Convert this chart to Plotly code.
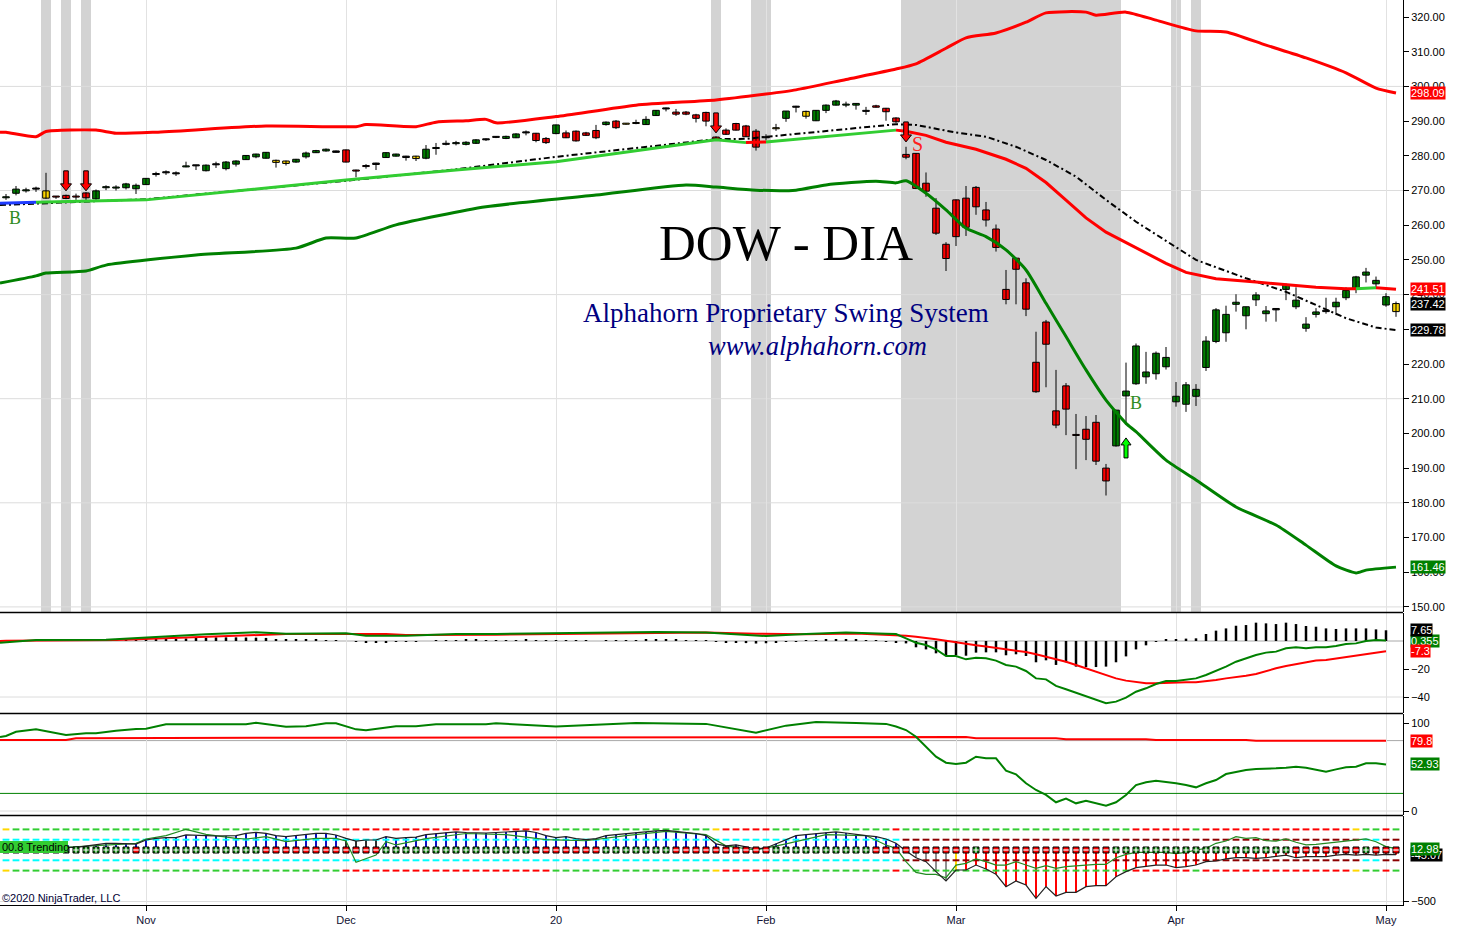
import plotly.graph_objects as go

# ---------------- categories / ticks ----------------
MONTH_IDX = [14, 34, 55, 76, 95, 117, 138]
MONTH_LBL = ["Nov", "Dec", "20", "Feb", "Mar", "Apr", "May"]
PRICE_TICKS = list(range(150, 321, 10))

# ---------------- price bars (one per trading day, index 0 = 14 Oct 2019) ----------------
OPEN = [267.9,269.2,269.9,270.4,269.9,268.3,268.6,268.3,269.3,267.6,
270.8,270.7,270.8,270.5,271.7,274.6,275.1,274.8,276.8,277.1,
275.7,277.4,276.3,277.6,278.9,279.7,279.3,278.7,278.5,278.2,
279.7,280.9,281.4,281.4,281.7,275.8,277.1,277.9,279.5,279.9,
279.9,279.9,279.3,282.1,283.3,283.5,283.3,283.6,284.6,285.3,
285.0,285.2,286.6,286.5,285.0,286.4,286.6,287.1,286.6,287.3,
289.0,290.0,289.2,289.3,289.0,291.6,293.5,292.6,292.6,291.8,
292.5,285.4,287.4,289.3,288.6,287.1,285.3,287.8,290.8,294.0,
292.8,290.1,293.1,294.6,294.6,294.6,293.0,294.4,293.7,290.9,
280.4,280.7,272.1,264.9,254.5,267.3,267.8,270.9,264.4,258.9,
241.5,250.5,243.4,220.5,232.1,206.5,213.7,199.6,201.2,203.2,
190.0,196.4,210.8,214.3,216.3,217.2,219.2,209.1,208.4,210.7,
219.0,226.5,229.0,237.2,233.9,238.5,234.5,235.6,241.5,236.5,
230.3,234.3,235.1,236.5,239.1,241.7,245.6,243.1,237.0,235.1]
HIGH = [269.0,271.3,270.8,271.1,275.1,268.4,268.8,269.1,269.5,270.3,
271.5,271.5,272.2,272.0,273.6,275.4,275.8,275.5,278.3,277.4,
277.5,278.3,278.5,278.7,280.2,280.6,281.1,278.9,278.6,279.1,
281.2,281.7,282.1,281.5,281.8,276.0,277.6,278.0,281.0,280.6,
280.0,280.0,283.1,283.7,284.4,284.3,284.2,284.8,285.0,285.7,
285.8,286.5,287.3,286.6,285.4,289.0,287.3,287.3,286.9,288.9,
289.9,290.3,289.3,290.4,291.4,293.2,293.9,293.5,292.9,292.1,
292.7,285.6,287.9,289.5,288.9,287.7,286.2,289.2,292.9,294.4,
293.0,293.2,294.8,296.1,295.6,295.2,294.1,294.7,293.8,291.1,
282.6,280.8,275.2,267.8,255.1,267.4,271.3,271.3,266.7,260.2,
247.1,250.6,244.7,229.3,232.7,218.3,214.5,205.6,205.0,205.3,
191.2,206.8,220.4,225.9,223.5,223.6,224.9,214.8,214.8,214.2,
228.0,236.1,236.8,240.1,236.5,240.7,236.7,236.1,243.2,242.1,
233.5,236.1,239.1,239.1,242.1,245.4,247.7,245.2,240.4,238.0]
LOW = [267.3,268.6,269.4,269.6,267.6,267.6,267.5,267.3,267.0,267.3,
270.1,270.0,270.3,269.0,271.6,274.0,274.5,274.2,276.7,275.9,
275.5,276.5,275.8,276.9,278.8,279.3,279.2,276.6,277.2,278.0,
279.2,280.8,281.2,280.9,278.1,273.8,276.3,275.9,279.4,279.8,
278.6,278.5,279.0,280.3,283.0,283.0,283.0,283.4,284.3,285.1,
284.8,285.1,285.9,283.9,283.4,286.2,285.1,284.1,285.7,284.8,
288.7,287.7,289.0,289.1,288.9,291.5,292.8,291.5,291.7,289.6,
288.5,284.7,286.0,287.3,285.4,281.5,284.4,287.2,289.8,292.5,
290.7,290.0,292.3,294.5,294.0,293.3,291.8,293.9,290.1,289.5,
279.0,270.4,268.2,257.2,246.8,254.0,256.9,263.0,259.6,252.4,
237.2,237.2,233.8,211.7,213.3,201.5,199.5,189.7,192.3,190.9,
182.1,196.2,202.4,214.0,214.3,215.5,218.4,207.7,206.2,207.9,
218.0,226.0,226.4,235.1,230.0,236.7,232.2,232.2,238.4,235.8,
229.3,233.4,234.5,234.1,238.4,240.4,243.5,241.6,236.5,233.6]
CLOSE = [268.1,270.4,270.2,270.6,267.8,268.1,267.7,268.1,267.9,269.9,
271.0,270.9,271.9,271.5,273.5,274.8,275.3,275.0,277.0,277.3,
277.3,277.6,278.2,278.5,280.1,280.5,281.0,278.1,277.8,279.0,
280.8,281.5,281.9,281.0,278.2,275.6,276.9,277.5,280.9,280.5,
279.5,279.2,281.9,282.3,283.5,283.7,283.9,284.6,284.8,285.5,
285.6,286.3,286.8,284.4,283.8,288.9,285.2,284.3,285.9,285.2,
289.7,288.1,289.1,289.4,290.5,293.1,293.7,292.0,292.0,290.8,
290.0,284.8,286.2,287.4,285.5,282.5,285.2,288.0,292.9,294.2,
291.4,293.1,294.6,295.8,294.8,295.1,292.8,294.0,292.7,289.8,
279.6,270.6,269.8,257.7,250.4,256.7,259.4,265.3,261.5,253.6,
238.6,247.3,235.8,212.0,225.7,202.4,207.0,199.4,198.3,192.0,
186.3,206.7,212.2,225.2,217.7,223.1,221.9,210.7,214.0,212.7,
226.6,235.6,234.3,237.8,236.5,239.9,235.3,236.0,242.8,238.4,
231.5,235.0,235.5,237.8,241.2,245.1,246.5,244.1,239.4,237.42]
BAR_COLOR = ("gggkyrrrrg" "gggggkkkgk" "gkgggggyyg" "gggkrrrkgg" "kyggkgggkk"
             "ggkrrgrrrr" "gryyggkrrr" "rrrrrrkygk" "ygggggkrrr" "rrrrrrrrrr"
             "rrrrrrrrrr" "rggggggggg" "gggggggkgg" "ggkggggggy")

# ---------------- price-panel indicator lines (bar index, value) ----------------
UP_I = [-0.6,0,3,4,9,11,15,26,35,36,41,43,46,48,49,55,63,71,76,79,84,89,91,94,96,99,102,104,108,109,112,115,119,122,126,130,134,137,139]
UP_V = [286.8,286.8,285.5,287.0,287.4,286.5,286.8,288.6,288.4,289.0,288.4,289.7,290.1,290.5,289.5,291.3,294.6,296.1,297.8,299.0,302.0,305.0,306.5,311.0,314.0,315.4,318.5,321.2,321.4,320.5,321.4,319.1,316.0,315.7,311.9,308.2,303.9,299.5,298.09]
LO_I = [-0.6,3,4,8,10,19,29,32,35,39,48,59,68,71,75,79,82,87,89,90,92,94,96,98,100,102,104,106,108,110,112,113,116,119,123,127,130,133,135,136,139]
LO_V = [243.3,245.4,246.2,246.8,248.5,251.4,253.4,256.3,256.3,260.1,265.3,268.7,271.6,271.0,270.1,270.1,271.6,272.7,272.2,272.8,269.2,264.4,259.1,256.7,252.9,247.1,237.5,227.9,218.3,209.6,202.9,200.5,192.3,186.6,178.8,173.6,167.8,161.8,159.8,160.6,161.46]
MID_I = [-0.6,3,14,34,45,55,71,74,76,89,90,92,94,97,100,102,104,106,108,110,112,114,116,118,121,125,128,131,134,135,137,139]
MID_V = [266.3,266.6,267.3,273.0,275.9,278.3,284.6,283.8,284.0,287.4,287.1,285.9,283.9,281.9,279.0,276.4,272.3,267.2,262.1,258.0,255.0,252.0,249.0,246.4,244.6,243.6,242.9,242.1,241.7,241.7,242.0,241.51]
MID_RUNS = [(-0.6, "#1f3cff"), (3, "#32cd32"), (74, "#ff0000"), (76, "#32cd32"), (89, "#ff0000"), (135, "#32cd32"), (137, "#ff0000")]
DD_I = [-0.6,14,34,45,55,71,74,80,89,91,92,95,98,101,104,107,110,113,116,119,124,128,131,134,137,139]
DD_V = [265.8,267.5,272.8,276.1,279.7,284.8,284.9,286.5,289.1,288.9,288.4,286.7,285.5,282.6,278.8,274.0,267.3,261.0,255.5,250.0,244.7,240.8,237.0,233.2,230.5,229.78]

SHADE_SPANS = [(4, 4), (6, 6), (8, 8), (71, 71), (75, 76), (90, 111), (117, 117), (119, 119)]
DOWN_ARROWS = [(6, 269.9), (8, 269.9), (71, 286.6), (90, 284.0)]
UP_ARROWS = [(112, 198.7)]

# ---------------- panel 2 (MACD style) ----------------
HIST = [0.1,0.1,0.2,0.2,0.2,0.2,0.3,0.3,0.3,0.4,0.4,0.5,
        0.8,1.0,1.2,1.4,1.5,1.6,1.8,
        2.2,2.4,2.6,2.6,2.6,2.5,2.4,2.2,
        1.2,0.9,0.8,0.8,0.8,0.7,0.6,
        0.0,-0.6,-0.8,-0.8,-0.8,-0.7,-0.5,-0.3,
        0.0,0.2,0.3,0.4,
        0.8,0.8,0.7,0.7,
        0.6,0.7,0.8,0.6,0.3,0.5,0.3,0.1,0.1,0.0,0.3,0.2,0.3,0.5,0.8,1.0,1.0,0.8,0.6,0.4,0.2,
        -0.6,-1.0,-1.3,-1.5,-1.8,-1.6,-1.2,-0.6,-0.2,
        0.3,0.6,0.8,1.0,1.0,0.9,0.7,
        0.3,-0.3,-1.2,
        -1.7,-4.5,-6.0,-8.8,-10.5,-10.0,-10.5,-8.3,-8.1,-8.1,
        -10.2,-9.5,-10.7,-15.2,-13.8,-17.1,-15.2,-18.3,-18.6,-18.6,
        -18.3,-15.2,-11.0,-6.0,-3.1,-0.5,1.2,1.2,1.7,1.9,
        5.0,7.4,9.0,10.9,11.4,13.1,12.6,12.1,13.1,12.1,
        10.7,10.2,9.0,8.6,9.0,9.0,9.0,8.3,7.65]
MACD_I_EARLY = [-0.6,0,3,10,14,17,20,25,28,34,36,40,45,49,55,60,65,70,73,76,80,84,88]
MACD_V_EARLY = [-1.2,-0.9,0.7,0.9,2.4,3.8,4.8,6.2,5.2,5.5,3.8,3.8,5.0,5.0,5.5,5.8,6.5,6.0,4.5,3.5,5.0,6.0,5.2]
MACD_V_LATE = [5.0,1.9,-1.2,-2.9,-6.0,-10.7,-10.7,-13.1,-11.9,-12.4,
               -14.0,-17.1,-18.3,-21.4,-26.7,-27.4,-32.1,-34.5,-36.9,-39.3,
               -42.1,-44.5,-43.3,-40.5,-36.2,-33.8,-30.7,-28.6,-28.6,-27.4,
               -26.7,-24.3,-21.4,-18.3,-14.8,-12.4,-10.0,-8.3,-7.6,-5.2,
               -4.5,-5.2,-4.5,-4.5,-3.6,-2.1,-1.7,0.0,0.7,0.355]
SIG_I_EARLY = [-0.6,0,11,16,20,25,28,38,40,49,55,60,65,70,75,80,85]
SIG_V_EARLY = [0.0,0.2,0.7,1.9,3.1,4.3,5.0,5.0,4.3,4.5,4.8,5.2,5.8,6.0,5.2,4.8,5.3]
SIG_V_LATE = [4.3,3.8,3.1,2.4,1.2,0.2,-1.0,-2.4,-3.1,-4.0,
              -5.0,-6.0,-6.9,-7.9,-9.5,-11.2,-12.9,-14.8,-17.1,-19.5,
              -21.9,-24.3,-26.7,-28.3,-29.5,-30.2,-30.2,-29.8,-29.5,-29.5,
              -29.5,-28.8,-27.9,-26.7,-25.9,-24.8,-23.6,-21.4,-19.5,-17.9,
              -16.7,-15.2,-14.0,-13.6,-12.6,-11.4,-10.5,-9.5,-8.8,-7.3]

# ---------------- panel 3 (0-100 oscillator) ----------------
OSC_I_EARLY = [-0.6,0,1,3,6,8,9,11,13,14,16,24,25,28,30,32,33,35,36,39,41,43,48,49,55,60,63,70,73,75,78,81,85,88,89]
OSC_V_EARLY = [84,85.2,90.1,92.8,86.4,88.3,88.3,91.3,93.2,93.5,98.5,98.5,100.4,95.8,96.2,99.6,99.6,92.8,91.7,96.2,96.2,98.5,98.5,99.6,96,99,100,99,93,89,97,101,100,99,96]
OSC_V_LATE = [92.0,84.4,73.1,61.7,54.9,53.4,54.9,61.7,59.9,59.9,
              45.8,41.7,31.5,23.9,18.2,9.9,14.0,8.7,11.7,8.7,
              6.1,9.9,18.2,29.5,32.6,34.5,33.4,31.5,29.5,26.9,
              31.5,35.2,42.0,44.7,46.6,47.7,48.5,48.5,49.2,50.3,
              49.2,46.6,44.7,47.3,49.6,50.3,54.2,54.2,52.93]
OSC_RED_I = [-0.6,6,7,29,30,96,97,105,106,114,115,124,125,138]
OSC_RED_V = [80.7,80.7,82.6,82.6,83.3,84.2,82.6,82.6,81.5,81.5,80.7,80.7,79.8,79.8]
OSC_LEVEL = 20

# ---------------- panel 4 (CCI style) ----------------
CCI = [15,18,20,22,24,25,26,
       26,39,49,65,65,65,58,97,113,120,120,146,139,139,136,136,139,162,171,162,139,129,139,152,162,162,146,113,87,97,97,129,113,
       120,125,150,160,170,175,170,165,165,170,175,180,185,170,140,120,130,110,100,110,
       140,150,160,170,175,185,190,180,170,160,140,60,40,50,30,10,20,60,100,140,
       150,160,170,175,165,150,140,130,107,65,
       -10,-75,-113,-210,-301,-194,-194,-146,-184,-236,
       -356,-301,-340,-469,-356,-447,-411,-411,-356,-346,
       -346,-259,-210,-171,-162,-146,-146,-171,-162,-146,
       -113,-107,-87,-75,-75,-81,-75,-65,-49,-75,
       -65,-65,-65,-49,-42,-49,-42,-49,-42,-45.07]
CCI_G_I_EARLY = [-0.6,6,9,13,14,16,18,20,23,24,26,28,31,33,34,35,37,38,39,42,46,50,54,58,62,66,70,72,75,78,82,86,88,89]
CCI_G_V_EARLY = [20,26,42,65,107,139,201,152,113,107,129,81,113,113,87,-120,-49,81,49,110,160,150,100,90,140,180,150,40,0,60,150,140,49,16]
CCI_G_V_LATE = [-113,-217,-236,-236,-269,-146,-130,-87,-113,-146,
                -146,-113,-146,-178,-152,-178,-162,-152,-146,-140,
                -140,-75,-42,-23,-23,-17,-23,-36,-23,0,
                16,65,87,129,113,120,90,87,107,75,
                49,55,65,75,80,97,107,80,33,12.98]
CCI_LEVELS = [200, 100, -100, -200]
OUTER_RUNS = [(0, "y"), (1, "g"), (34, "r"), (55, "g"), (71, "y"), (72, "r"), (77, "g"), (89, "r"), (90, "g"),
              (113, "r"), (119, "g"), (120, "r"), (135, "y"), (136, "g"), (138, "r"), (139, "g")]
INNER_RUNS = [(0, "c"), (90, "d"), (136, "c"), (138, "d")]
SQUARE_RUNS = [(0, "p"), (13, "m"), (14, "p"), (26, "m"), (38, "p"), (53, "m"), (60, "p"), (67, "m"), (77, "p"),
               (87, "m"), (97, "p"), (98, "m"), (111, "p"), (129, "m"), (136, "p"), (137, "m")]
STEM_RUNS = [(0, "b"), (34, "k"), (38, "b"), (90, "g"), (95, "y"), (96, "r")]

# ---------------- geometry ----------------
W, H = 1458, 927
MR, MB = 55, 22
PW, PH = W - MR, H - MB
N = len(OPEN)
XR = [-0.6, 139.7]
PANELS = {  # pixel rows (top, bottom) and value range
    "y":  ((0, 612),   [148.53, 324.90]),
    "y2": ((613, 713), [-51.43, 20.0]),
    "y3": ((714, 815), [-4.55, 110.23]),
    "y4": ((816, 905), [-534.0, 330.1]),
}


def dom(rows):
    return [1 - rows[1] / PH, 1 - rows[0] / PH]


def ppu(name):
    rows, rng = PANELS[name]
    return (rows[1] - rows[0]) / (rng[1] - rng[0])


def runs_to_codes(runs, n):
    out = []
    for k, (s, c) in enumerate(runs):
        e = runs[k + 1][0] if k + 1 < len(runs) else n
        out += [c] * (int(e) - int(s))
    return out


COLMAP = {"g": "#008000", "r": "#ff0000", "y": "#ffd700", "k": "#000000"}
fig = go.Figure()

# ---------- price panel ----------
wx, wy = [], []
for i in range(N):
    wx += [i, i, None]
    wy += [LOW[i], HIGH[i], None]
fig.add_trace(go.Scatter(x=wx, y=wy, mode="lines", line=dict(color="black", width=1),
                         xaxis="x", yaxis="y", hoverinfo="skip"))
base = [min(o, c) for o, c in zip(OPEN, CLOSE)]
hgt = [max(abs(c - o), 0.3) for o, c in zip(OPEN, CLOSE)]
fig.add_trace(go.Bar(x=list(range(N)), y=hgt, base=base, width=0.66,
                     marker=dict(color=[COLMAP[c] for c in BAR_COLOR], line=dict(color="black", width=1)),
                     xaxis="x", yaxis="y", hoverinfo="skip"))

fig.add_trace(go.Scatter(x=DD_I, y=DD_V, mode="lines", line=dict(color="black", width=2, dash="6px,3px,2px,3px"),
                         xaxis="x", yaxis="y", hoverinfo="skip"))
fig.add_trace(go.Scatter(x=UP_I, y=UP_V, mode="lines", line=dict(color="#ff0000", width=3, shape="spline", smoothing=0.6),
                         xaxis="x", yaxis="y", hoverinfo="skip"))
fig.add_trace(go.Scatter(x=LO_I, y=LO_V, mode="lines", line=dict(color="#008000", width=3, shape="spline", smoothing=0.6),
                         xaxis="x", yaxis="y", hoverinfo="skip"))
for k, (s, col) in enumerate(MID_RUNS):
    e = MID_RUNS[k + 1][0] if k + 1 < len(MID_RUNS) else MID_I[-1]
    xs = [x for x in MID_I if s <= x <= e]
    ys = [v for x, v in zip(MID_I, MID_V) if s <= x <= e]
    fig.add_trace(go.Scatter(x=xs, y=ys, mode="lines", line=dict(color=col, width=3),
                             xaxis="x", yaxis="y", hoverinfo="skip"))

# ---------- panel 2 ----------
fig.add_trace(go.Bar(x=list(range(len(HIST))), y=HIST, base=0, width=0.25,
                     marker=dict(color="black", line=dict(width=0)), xaxis="x2", yaxis="y2", hoverinfo="skip"))
fig.add_trace(go.Scatter(x=SIG_I_EARLY + list(range(89, 89 + len(SIG_V_LATE))), y=SIG_V_EARLY + SIG_V_LATE,
                         mode="lines", line=dict(color="#ff0000", width=2), xaxis="x2", yaxis="y2", hoverinfo="skip"))
fig.add_trace(go.Scatter(x=MACD_I_EARLY + list(range(89, 89 + len(MACD_V_LATE))), y=MACD_V_EARLY + MACD_V_LATE,
                         mode="lines", line=dict(color="#008000", width=2), xaxis="x2", yaxis="y2", hoverinfo="skip"))

# ---------- panel 3 ----------
fig.add_trace(go.Scatter(x=[XR[0], XR[1]], y=[OSC_LEVEL, OSC_LEVEL], mode="lines",
                         line=dict(color="#008000", width=1), xaxis="x3", yaxis="y3", hoverinfo="skip"))
fig.add_trace(go.Scatter(x=OSC_RED_I, y=OSC_RED_V, mode="lines", line=dict(color="#ff0000", width=2),
                         xaxis="x3", yaxis="y3", hoverinfo="skip"))
fig.add_trace(go.Scatter(x=OSC_I_EARLY + list(range(90, 90 + len(OSC_V_LATE))), y=OSC_V_EARLY + OSC_V_LATE,
                         mode="lines", line=dict(color="#008000", width=2), xaxis="x3", yaxis="y3", hoverinfo="skip"))

# ---------- panel 4 ----------
DASHCOL = {"g": "#32cd32", "r": "#ff0000", "y": "#ffd700", "c": "#00ffff", "d": "#8b0000"}
outer = runs_to_codes(OUTER_RUNS, N)
inner = runs_to_codes(INNER_RUNS, N)
for lvl in CCI_LEVELS:
    codes = outer if abs(lvl) == 200 else inner
    for code in sorted(set(codes)):
        xs, ys = [], []
        for i, c in enumerate(codes):
            if c == code:
                xs += [i - 0.34, i + 0.34, None]
                ys += [lvl, lvl, None]
        fig.add_trace(go.Scatter(x=xs, y=ys, mode="lines", line=dict(color=DASHCOL[code], width=2),
                                 xaxis="x4", yaxis="y4", hoverinfo="skip"))
STEMCOL = {"b": "#1010c0", "k": "#303030", "g": "#909090", "y": "#ffd700", "r": "#ff0000"}
stems = runs_to_codes(STEM_RUNS, N)
fig.add_trace(go.Bar(x=list(range(N)), y=CCI, base=0, width=0.1,
                     marker=dict(color=[STEMCOL[c] for c in stems], line=dict(width=0)),
                     xaxis="x4", yaxis="y4", hoverinfo="skip"))
fig.add_trace(go.Scatter(x=CCI_G_I_EARLY + list(range(90, 90 + len(CCI_G_V_LATE))), y=CCI_G_V_EARLY + CCI_G_V_LATE,
                         mode="lines", line=dict(color="#228b22", width=1.2), xaxis="x4", yaxis="y4", hoverinfo="skip"))
fig.add_trace(go.Scatter(x=list(range(N)), y=CCI, mode="lines", line=dict(color="#222222", width=1.2),
                         xaxis="x4", yaxis="y4", hoverinfo="skip"))
sq = runs_to_codes(SQUARE_RUNS, N)
fig.add_trace(go.Scatter(x=list(range(N)), y=[0] * N, mode="markers",
                         marker=dict(symbol="square", size=6, color=["#008000" if c == "p" else "#ff0000" for c in sq],
                                     line=dict(color="black", width=1)),
                         xaxis="x4", yaxis="y4", hoverinfo="skip"))
px_ = [i for i, c in enumerate(sq) if c == "p"]
mx_ = [i for i, c in enumerate(sq) if c == "m"]
fig.add_trace(go.Scatter(x=px_, y=[0] * len(px_), mode="markers",
                         marker=dict(symbol="cross-thin", size=4, line=dict(color="white", width=1.2)),
                         xaxis="x4", yaxis="y4", hoverinfo="skip"))
fig.add_trace(go.Scatter(x=mx_, y=[0] * len(mx_), mode="markers",
                         marker=dict(symbol="line-ew", size=4, line=dict(color="white", width=1.2)),
                         xaxis="x4", yaxis="y4", hoverinfo="skip"))

# ---------- shapes ----------
shapes = []
for a, b in SHADE_SPANS:
    shapes.append(dict(type="rect", xref="x", yref="y domain", x0=a - 0.5, x1=b + 0.5, y0=0, y1=1,
                       fillcolor="#d3d3d3", line=dict(width=0), layer="below"))
GRIDS = [("y", v, "#dcdcdc") for v in (150, 180, 210, 240, 270, 300)] + \
        [("y2", 0, "#a8a8a8"), ("y2", -40, "#dcdcdc"), ("y3", 0, "#dcdcdc"), ("y3", 80, "#a8a8a8"),
         ("y4", -500, "#dcdcdc")]
for ax, v, col in GRIDS:
    shapes.append(dict(type="line", xref="paper", yref=ax, x0=0, x1=1, y0=v, y1=v,
                       line=dict(color=col, width=1), layer="below"))
for rowpix in (612.5, 713.5, 815.5):
    yy = 1 - rowpix / PH
    shapes.append(dict(type="line", xref="paper", yref="paper", x0=0, x1=1, y0=yy, y1=yy,
                       line=dict(color="black", width=1.3), layer="above"))
k1 = ppu("y")
L, HH = 20 / k1, 7 / k1
for i, tip in DOWN_ARROWS:
    tail, hb = tip + L, tip + HH
    path = (f"M {i-0.23},{tail} L {i+0.23},{tail} L {i+0.23},{hb} L {i+0.55},{hb} L {i},{tip} "
            f"L {i-0.55},{hb} L {i-0.23},{hb} Z")
    shapes.append(dict(type="path", xref="x", yref="y", path=path, fillcolor="#ff0000",
                       line=dict(color="black", width=1), layer="above"))
for i, tip in UP_ARROWS:
    tail, hb = tip - L, tip - HH
    path = (f"M {i-0.2},{tail} L {i+0.2},{tail} L {i+0.2},{hb} L {i+0.5},{hb} L {i},{tip} "
            f"L {i-0.5},{hb} L {i-0.2},{hb} Z")
    shapes.append(dict(type="path", xref="x", yref="y", path=path, fillcolor="#00ff00",
                       line=dict(color="black", width=1), layer="above"))
# "Trending" label box (bottom panel)
shapes.append(dict(type="rect", xref="paper", yref="paper", x0=0, x1=68 / PW, y0=1 - 853 / PH, y1=1 - 841 / PH,
                   fillcolor="#32cd32", line=dict(width=0), layer="above"))

# ---------- annotations ----------
SERIF = "Liberation Serif, Times New Roman, serif"
SANS = "Arial, Liberation Sans"
ann = []
ann.append(dict(xref="paper", yref="paper", x=786 / PW, y=1 - 243 / PH, xanchor="center", yanchor="middle",
                text="DOW - DIA", showarrow=False, font=dict(family=SERIF, size=51, color="black")))
ann.append(dict(xref="paper", yref="paper", x=786 / PW, y=1 - 313 / PH, xanchor="center", yanchor="middle",
                text="Alphahorn Proprietary Swing System", showarrow=False,
                font=dict(family=SERIF, size=27, color="#000080")))
ann.append(dict(xref="paper", yref="paper", x=817.5 / PW, y=1 - 346 / PH, xanchor="center", yanchor="middle",
                text="<i>www.alphahorn.com</i>", showarrow=False, font=dict(family=SERIF, size=26.5, color="#000080")))
SIG_TEXT = [(91.1, 283.4, "S", "#ff2020", 20), (113.0, 208.8, "B", "#2e8b22", 18), (0.9, 262.1, "B", "#2e8b22", 18)]
for x, y, t, c, s in SIG_TEXT:
    ann.append(dict(xref="x", yref="y", x=x, y=y, text=t, showarrow=False, yanchor="middle",
                    font=dict(family=SERIF, size=s, color=c)))
ann.append(dict(xref="paper", yref="paper", x=0, y=1 - 847 / PH, xanchor="left", yanchor="middle",
                text="00.8 Trending", showarrow=False, font=dict(family=SANS, size=11, color="black")))
ann.append(dict(xref="paper", yref="paper", x=0, y=1 - 898 / PH, xanchor="left", yanchor="middle",
                text="©2020 NinjaTrader, LLC", showarrow=False, font=dict(family=SANS, size=11, color="#000033")))

TAGS = [("y", 298.09, "298.09", "#ff0000"), ("y", 241.51, "241.51", "#ff0000"), ("y", 237.42, "237.42", "#000000"),
        ("y", 229.78, "229.78", "#000000"), ("y", 161.46, "161.46", "#008000"),
        ("y2", 0.355, "0.355", "#008000"), ("y2", 7.65, "7.65", "#000000"), ("y2", -7.3, "-7.3", "#ff0000"),
        ("y3", 79.8, "79.8", "#ff0000"), ("y3", 52.93, "52.93", "#008000"),
        ("y4", -45.07, "-45.07", "#000000"), ("y4", 12.98, "12.98", "#008000")]
XA = {"y": "x", "y2": "x2", "y3": "x3", "y4": "x4"}
for ax, v, t, col in TAGS:
    fig.add_trace(go.Scatter(x=[XR[1] + 0.42], y=[v], mode="markers", cliponaxis=False,
                             marker=dict(symbol="triangle-left", size=11, color=col, line=dict(width=0)),
                             xaxis=XA[ax], yaxis=ax, hoverinfo="skip"))
    ann.append(dict(xref="paper", yref=ax, x=1, y=v, xanchor="left", yanchor="middle", xshift=7,
                    text=t, showarrow=False, bgcolor=col, borderpad=0,
                    font=dict(family=SANS, size=11, color="white")))

# ---------- layout ----------
xcommon = dict(range=XR, showgrid=True, gridcolor="#e2e2e2", gridwidth=1, tickvals=MONTH_IDX,
               zeroline=False, fixedrange=True)
tickfont = dict(family=SANS, size=11, color="black")
ycommon = dict(side="right", showgrid=False, zeroline=False, showline=True, linecolor="black", linewidth=1,
               ticks="outside", ticklen=5, tickcolor="black", tickfont=tickfont, fixedrange=True)
fig.update_layout(
    width=W, height=H, margin=dict(l=0, r=MR, t=0, b=MB),
    paper_bgcolor="white", plot_bgcolor="white", showlegend=False, barmode="overlay",
    xaxis=dict(**xcommon, anchor="y", showticklabels=False, ticks="", showline=False),
    xaxis2=dict(**xcommon, anchor="y2", matches="x", showticklabels=False, ticks="", showline=False),
    xaxis3=dict(**xcommon, anchor="y3", matches="x", showticklabels=False, ticks="", showline=False),
    xaxis4=dict(**xcommon, anchor="y4", matches="x", ticktext=MONTH_LBL, ticks="outside", ticklen=5,
                tickcolor="black", showline=True, linecolor="black",
                tickfont=dict(family=SANS, size=11, color="#111133")),
    yaxis=dict(**ycommon, domain=dom(PANELS["y"][0]), range=PANELS["y"][1], anchor="x",
               tickvals=PRICE_TICKS, ticktext=[f"{v:.2f}" for v in PRICE_TICKS]),
    yaxis2=dict(**ycommon, domain=dom(PANELS["y2"][0]), range=PANELS["y2"][1], anchor="x2", tickvals=[-40, -20]),
    yaxis3=dict(**ycommon, domain=dom(PANELS["y3"][0]), range=PANELS["y3"][1], anchor="x3", tickvals=[0, 100]),
    yaxis4=dict(**ycommon, domain=dom(PANELS["y4"][0]), range=PANELS["y4"][1], anchor="x4", tickvals=[-500]),
    shapes=shapes, annotations=ann,
)

fig.write_html("out.html")
